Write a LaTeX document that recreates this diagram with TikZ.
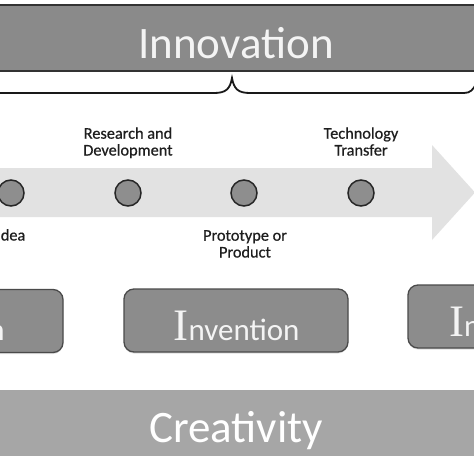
\documentclass[tikz,border=0pt]{standalone}
\usepackage{fontspec}
\setmainfont{Carlito}
\newfontfamily\serifI{Liberation Serif}
\newfontfamily\lblfont{Carlito}[FakeBold=0.6]
\usetikzlibrary{shadows}
\definecolor{topgray}{HTML}{8A8A8A}
\definecolor{boxgray}{HTML}{8C8C8C}
\definecolor{boxline}{HTML}{4A4A4A}
\definecolor{botgray}{HTML}{A6A6A6}
\definecolor{arrowgray}{HTML}{E2E2E2}
\definecolor{dotgray}{HTML}{8E8E8E}
\definecolor{textlight}{HTML}{F4F4F4}
\definecolor{labeltext}{HTML}{1E1E1E}
\begin{document}
\begin{tikzpicture}[x=1pt,y=-1pt,
  bigtext/.style={font=\fontsize{45}{45}\selectfont, text=textlight, anchor=base, inner sep=0pt},
  lbl/.style={font=\lblfont\fontsize{16.3}{16.8}\selectfont, text=labeltext, align=center, anchor=base, inner sep=0pt},
  ibox/.style={draw=boxline, line width=1.3pt, fill=boxgray, rounded corners=10pt,
    minimum width=224pt, minimum height=63pt, inner sep=0pt,
    drop shadow={opacity=0.25, shadow xshift=0pt, shadow yshift=-1.5pt}},
  iword/.style={text=textlight, anchor=base, inner sep=0pt},
  dot/.style={circle, draw=black!85, line width=1.5pt, fill=dotgray, minimum size=26pt, inner sep=0pt}]
\useasboundingbox (0,0) rectangle (474,474);
\clip (0,0) rectangle (474,474);
\fill[white] (0,0) rectangle (474,474);
% top bar
\draw[fill=topgray, draw=black!80, line width=1.5pt] (-10,5) rectangle (490,71);
\node[bigtext] (innovation) at (236,58) {Innovation};
% brace
\draw[line width=1.8pt, black!90] (-10,93) -- (214,93) .. controls (226,93) and (230,89) .. (232,78)
  .. controls (234,89) and (238,93) .. (250,93) -- (464,93) .. controls (470,93) and (473,90) .. (476,84);
% arrow
\fill[arrowgray] (-10,168) -- (432,168) -- (432,145) -- (475,192.5) -- (432,240) -- (432,217) -- (-10,217) -- cycle;
% dots
\node[dot] (d1) at (11,193) {};
\node[dot] (d2) at (128,193) {};
\node[dot] (d3) at (244,193) {};
\node[dot] (d4) at (361,193) {};
% labels (base = last line baseline)
\node[lbl] (rd) at (128,155.5) {Research and\\Development};
\node[lbl] (tt) at (361,155.5) {Technology\\Transfer};
\node[lbl] (idea) at (11,240.5) {Idea};
\node[lbl] (pp) at (245,257.5) {Prototype or\\Product};
% boxes
\node[ibox] (b1) at (-49,321) {};
\node[ibox] (b2) at (236,320.5) {};
\node[ibox] (b3) at (520,316.5) {};
\node[iword] (t1) at (-51,340) {{\serifI\fontsize{45}{45}\selectfont I}{\fontsize{31}{31}\selectfont deation}};
\node[iword] (t2) at (236.5,340) {{\serifI\fontsize{45}{45}\selectfont I}{\fontsize{31}{31}\selectfont nvention}};
\node[iword] (t3) at (520,336) {{\serifI\fontsize{45}{45}\selectfont I}{\fontsize{31}{31}\selectfont nnovation}};
% bottom bar
\fill[botgray] (-10,390) rectangle (490,456);
\node[bigtext, text=white] (creativity) at (236,442) {Creativity};
\end{tikzpicture}
\end{document}
